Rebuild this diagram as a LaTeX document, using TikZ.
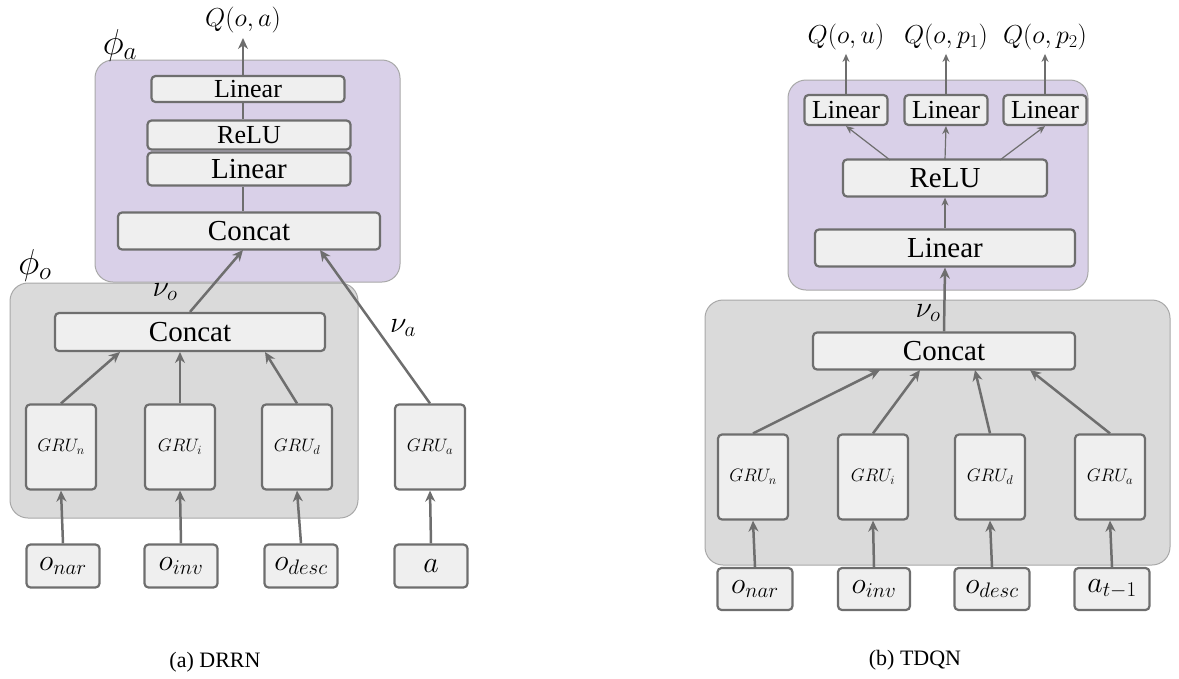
\RequirePackage{fix-cm}
\documentclass[tikz,border=0pt]{standalone}
\usepackage{fontspec}
\setmainfont{Liberation Serif}
\usetikzlibrary{arrows.meta}
\definecolor{pur}{HTML}{D9D0E8}
\definecolor{gbg}{HTML}{DADADA}
\definecolor{bx}{HTML}{EFEFEF}
\definecolor{ln}{HTML}{6E6E6E}
\tikzset{
 grp/.style={draw=ln!60,line width=1pt,rounded corners=18pt},
 bx/.style={draw=ln,fill=bx,line width=2.2pt,rounded corners=4pt,inner sep=0pt},
 ar/.style={draw=ln,line width=2.5pt,-{Stealth[length=11pt,width=10pt]}},
 tar/.style={draw=ln,line width=1.2pt,-{Stealth[length=8pt,width=7pt]}},
 big/.style={font=\fontsize{29}{31}\selectfont},
 med/.style={font=\fontsize{26}{28}\selectfont},
 sm/.style={font=\fontsize{18}{20}\selectfont},
 inp/.style={font=\fontsize{30}{32}\selectfont},
 ql/.style={font=\fontsize{26}{28}\selectfont},
}
\begin{document}
\begin{tikzpicture}[x=1pt,y=-1pt]
\useasboundingbox (0,0) rectangle (1179,678);
% left
\draw[grp,fill=pur] (95,60) rectangle (400,282);
\draw[grp,fill=gbg] (10,283) rectangle (358,518);
\node[bx,minimum width=193pt,minimum height=26pt,med] (l1) at (248,89) {Linear};
\node[bx,minimum width=203pt,minimum height=29pt,med] (r1) at (249,135) {ReLU};
\node[bx,minimum width=203pt,minimum height=33pt,big] (l2) at (249,169) {Linear};
\node[bx,minimum width=262pt,minimum height=37pt,big] (c1) at (249,231) {Concat};
\node[bx,minimum width=270pt,minimum height=38pt,big] (c2) at (190,332) {Concat};
\foreach \n/\x/\s in {gn/61/n,gi/180/i,gd/297/d,ga/430/a}
  \node[bx,minimum width=70pt,minimum height=85pt,sm] (\n) at (\x,447) {$GRU_\s$};
\node[bx,minimum width=73pt,minimum height=43pt,inp] (on) at (63,566) {$o_{nar}$};
\node[bx,minimum width=73pt,minimum height=43pt,inp] (oi) at (181,566) {$o_{inv}$};
\node[bx,minimum width=73pt,minimum height=43pt,inp] (od) at (301,566) {$o_{desc}$};
\node[bx,minimum width=73pt,minimum height=43pt,inp] (oa) at (431,566) {$a$};
\coordinate (qa) at (243,38);
\node[ql] at (243,20) {$Q(o,a)$};
\node[font=\fontsize{36}{38}\selectfont] at (120,45) {$\phi_a$};
\node[font=\fontsize{36}{38}\selectfont] at (35,265) {$\phi_o$};
\node[inp] at (165,292) {$\nu_o$};
\node[inp] at (403,328) {$\nu_a$};
\draw[ar] (l1.north -| qa) -- (qa);
\draw[draw=ln,line width=2.5pt] (l1.south -| qa) -- (r1.north -| qa);
\draw[draw=ln,line width=2.5pt] (l2.south -| qa) -- (c1.north -| qa);
\draw[ar] (c2.north) -- (243,250);
\draw[ar] (ga.north) -- (320,250);
\draw[ar] (gn.north) -- (120,352);
\draw[ar] (gi.north) -- (180,352);
\draw[ar] (gd.north) -- (265,352);
\draw[ar] (on.north) -- (gn.south);
\draw[ar] (oi.north) -- (gi.south);
\draw[ar] (od.north) -- (gd.south);
\draw[ar] (oa.north) -- (ga.south);
\node[font=\fontsize{22}{24}\selectfont] at (215,662) {(a) DRRN};
% right
\draw[grp,fill=pur] (788,80) rectangle (1088,290);
\draw[grp,fill=gbg] (705,300) rectangle (1170,565);
\foreach \n/\x in {ta/846,tb/946,tc/1045}
  \node[bx,minimum width=83pt,minimum height=30pt,med] (\n) at (\x,110) {Linear};
\node[bx,minimum width=204pt,minimum height=37pt,big] (rr) at (945,178) {ReLU};
\node[bx,minimum width=260pt,minimum height=37pt,big] (rl) at (945,248) {Linear};
\node[bx,minimum width=262pt,minimum height=37pt,big] (rc) at (944,351) {Concat};
\foreach \n/\x/\s in {hn/753/n,hi/873/i,hd/990/d,ha/1110/a}
  \node[bx,minimum width=70pt,minimum height=85pt,sm] (\n) at (\x,477) {$GRU_\s$};
\node[bx,minimum width=75pt,minimum height=42pt,inp] (pn) at (755,589) {$o_{nar}$};
\node[bx,minimum width=72pt,minimum height=42pt,inp] (pi) at (874,589) {$o_{inv}$};
\node[bx,minimum width=75pt,minimum height=42pt,inp] (pd) at (992,589) {$o_{desc}$};
\node[bx,minimum width=75pt,minimum height=42pt,inp] (pa) at (1112,589) {$a_{t-1}$};
\foreach \n/\l in {ta/{Q(o,u)},tb/{Q(o,p_1)},tc/{Q(o,p_2)}}{
  \coordinate (q\n) at ([yshift=40pt]\n.north);
  \draw[tar] (\n.north) -- (q\n);
  \node[ql] at ([yshift=57pt]\n.north) {$\l$};}
\draw[tar] (890,160) -- (ta.south);
\draw[tar] (945,160) -- (tb.south);
\draw[tar] (1000,160) -- (tc.south);
\draw[tar] (rl.north) -- (rr.south);
\draw[ar] (rc.north) -- (rl.south);
\node[inp] at (928,313) {$\nu_o$};
\draw[ar] (hn.north) -- (880,370);
\draw[ar] (hi.north) -- (920,370);
\draw[ar] (hd.north) -- (975,370);
\draw[ar] (ha.north) -- (1030,370);
\draw[ar] (pn.north) -- (hn.south);
\draw[ar] (pi.north) -- (hi.south);
\draw[ar] (pd.north) -- (hd.south);
\draw[ar] (pa.north) -- (ha.south);
\node[font=\fontsize{22}{24}\selectfont] at (915,660) {(b) TDQN};
\end{tikzpicture}
\end{document}
